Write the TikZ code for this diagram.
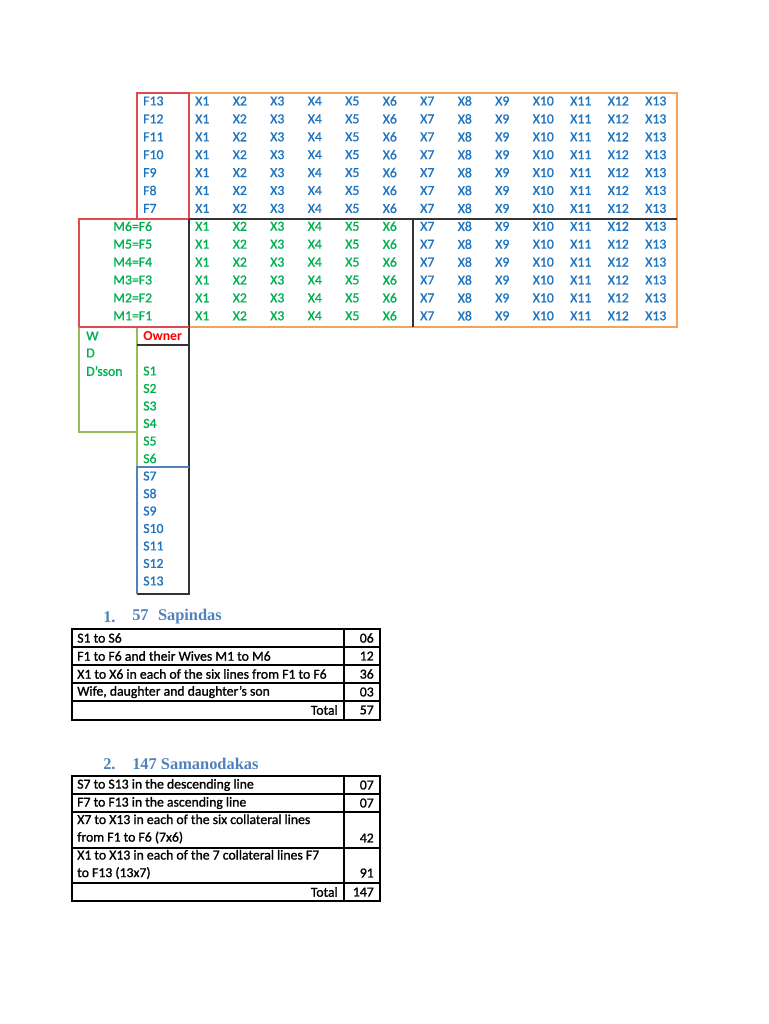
\documentclass[tikz,border=0pt]{standalone}
\usepackage{fontspec}
\setmainfont{Carlito}
\newfontfamily\headfont{Liberation Serif}
\newfontfamily\cellfont{Carlito}[FakeBold=1.2]
\usetikzlibrary{positioning}
\definecolor{cellblue}{HTML}{1F74C0}
\definecolor{cellgreen}{HTML}{00B050}
\definecolor{boxred}{HTML}{E04A50}
\definecolor{ownred}{HTML}{FF0000}
\definecolor{boxorange}{HTML}{F5A35C}
\definecolor{boxolive}{HTML}{9BBB59}
\definecolor{lineblue}{HTML}{4F81BD}
\definecolor{headblue}{HTML}{4F81BD}
\tikzset{
  cell/.style={anchor=west,inner sep=0pt,font=\cellfont\fontsize{10.3}{12.5}\selectfont},
  xblue/.style={cell,text=cellblue},
  xgreen/.style={cell,text=cellgreen},
  ownlbl/.style={cell,text=ownred,font=\fontsize{10.3}{12.5}\selectfont\bfseries},
  tbltxt/.style={cell,text=black,align=left,font=\cellfont\fontsize{10.3}{13.2}\selectfont},
  tblnum/.style={cell,anchor=east,text=black},
  headlbl/.style={anchor=west,inner sep=0pt,text=headblue,
    font=\headfont\fontsize{12.3}{14}\selectfont\bfseries},
  gridline/.style={line width=0.9pt},
}
\begin{document}
\begin{tikzpicture}[x=0.75pt,y=-0.75pt]
  \useasboundingbox (0,0) rectangle (768,1024);
  % ancestors and collaterals
  \foreach \r in {0,...,12} {
    \pgfmathtruncatemacro{\f}{13-\r}
    \ifnum\r<7
      \node[xblue] (f\r) at (143,{101+17.9*\r}) {F\f};
    \else
      \node[xgreen] (f\r) at (113,{101+17.9*\r}) {M\f=F\f};
    \fi
    \foreach \c in {1,...,13} {
      \pgfmathtruncatemacro{\grn}{(\r>6)&&(\c<7)}
      \ifnum\grn=1
        \node[xgreen] (x\r-\c) at ({195+37.5*(\c-1)},{101+17.9*\r}) {X\c};
      \else
        \node[xblue] (x\r-\c) at ({195+37.5*(\c-1)},{101+17.9*\r}) {X\c};
      \fi
    }
  }
  % boxes round the grid
  \draw[gridline,boxorange] (189,93) rectangle (677,327);
  \draw[gridline,boxred] (137,93) rectangle (189,219);
  \draw[gridline,boxred] (79,219) rectangle (189,327);
  \draw[gridline,black!80] (189,219) -- (677,219);
  \draw[gridline,black!80] (413,219) -- (413,327);
  \draw[gridline,black!80] (189,219) -- (189,327);
  % wife, daughter, daughter's son
  \node[xgreen] (w) at (86,336) {W};
  \node[xgreen] (d) at (86,353) {D};
  \node[xgreen] (dson) at (86,371) {D’sson};
  \draw[gridline,boxolive] (79,327) -- (79,432) -- (137,432);
  \draw[gridline,boxolive] (137,327) -- (137,467);
  % owner and descendants
  \node[ownlbl] (own) at (143,336) {Owner};
  \foreach \k in {1,...,6}
    \node[xgreen] (s\k) at (143,{371+17.5*(\k-1)}) {S\k};
  \foreach \k in {7,...,13}
    \node[xblue] (s\k) at (143,{476+17.5*(\k-7)}) {S\k};
  \draw[gridline,black!80] (137,345) -- (189,345);
  \draw[gridline,black!80] (189,327) -- (189,594) -- (137,594);
  \draw[gridline,lineblue] (137,594) -- (137,467) -- (189,467);
  \draw[gridline,boxred] (79,327) -- (189,327);
  % table 1
  \node[headlbl] (h1n) at (103,617) {1.};
  \node[headlbl] (h1) at (132,617) {57\hspace{7pt}Sapindas};
  \draw[gridline] (72,629) rectangle (380,720);
  \draw[gridline] (344,629) -- (344,720);
  \foreach \yy in {647,665,683,701} \draw[gridline] (72,\yy) -- (380,\yy);
  \node[tbltxt] (a1) at (77,638) {S1 to S6};
  \node[tbltxt] (a2) at (77,656) {F1 to F6 and their Wives M1 to M6};
  \node[tbltxt] (a3) at (77,674) {X1 to X6 in each of the six lines from F1 to F6};
  \node[tbltxt] (a4) at (77,692) {Wife, daughter and daughter’s son};
  \node[tblnum] (at) at (338,710) {Total};
  \node[tblnum] (n1) at (374,638) {06};
  \node[tblnum] (n2) at (374,656) {12};
  \node[tblnum] (n3) at (374,674) {36};
  \node[tblnum] (n4) at (374,692) {03};
  \node[tblnum] (n5) at (374,710) {57};
  % table 2
  \node[headlbl] (h2n) at (103,764) {2.};
  \node[headlbl] (h2) at (132,764) {147 Samanodakas};
  \draw[gridline] (72,776) rectangle (380,901);
  \draw[gridline] (344,776) -- (344,901);
  \foreach \yy in {794,812,848,883} \draw[gridline] (72,\yy) -- (380,\yy);
  \node[tbltxt] (b1) at (77,785) {S7 to S13 in the descending line};
  \node[tbltxt] (b2) at (77,803) {F7 to F13 in the ascending line};
  \node[tbltxt] (b3) at (77,829) {X7 to X13 in each of the six collateral lines\\from F1 to F6 (7x6)};
  \node[tbltxt] (b4) at (77,864.5) {X1 to X13 in each of the 7 collateral lines F7\\to F13 (13x7)};
  \node[tblnum] (bt) at (338,892) {Total};
  \node[tblnum] (m1) at (374,785) {07};
  \node[tblnum] (m2) at (374,803) {07};
  \node[tblnum] (m3) at (374,838) {42};
  \node[tblnum] (m4) at (374,873) {91};
  \node[tblnum] (m5) at (374,892) {147};
\end{tikzpicture}
\end{document}
